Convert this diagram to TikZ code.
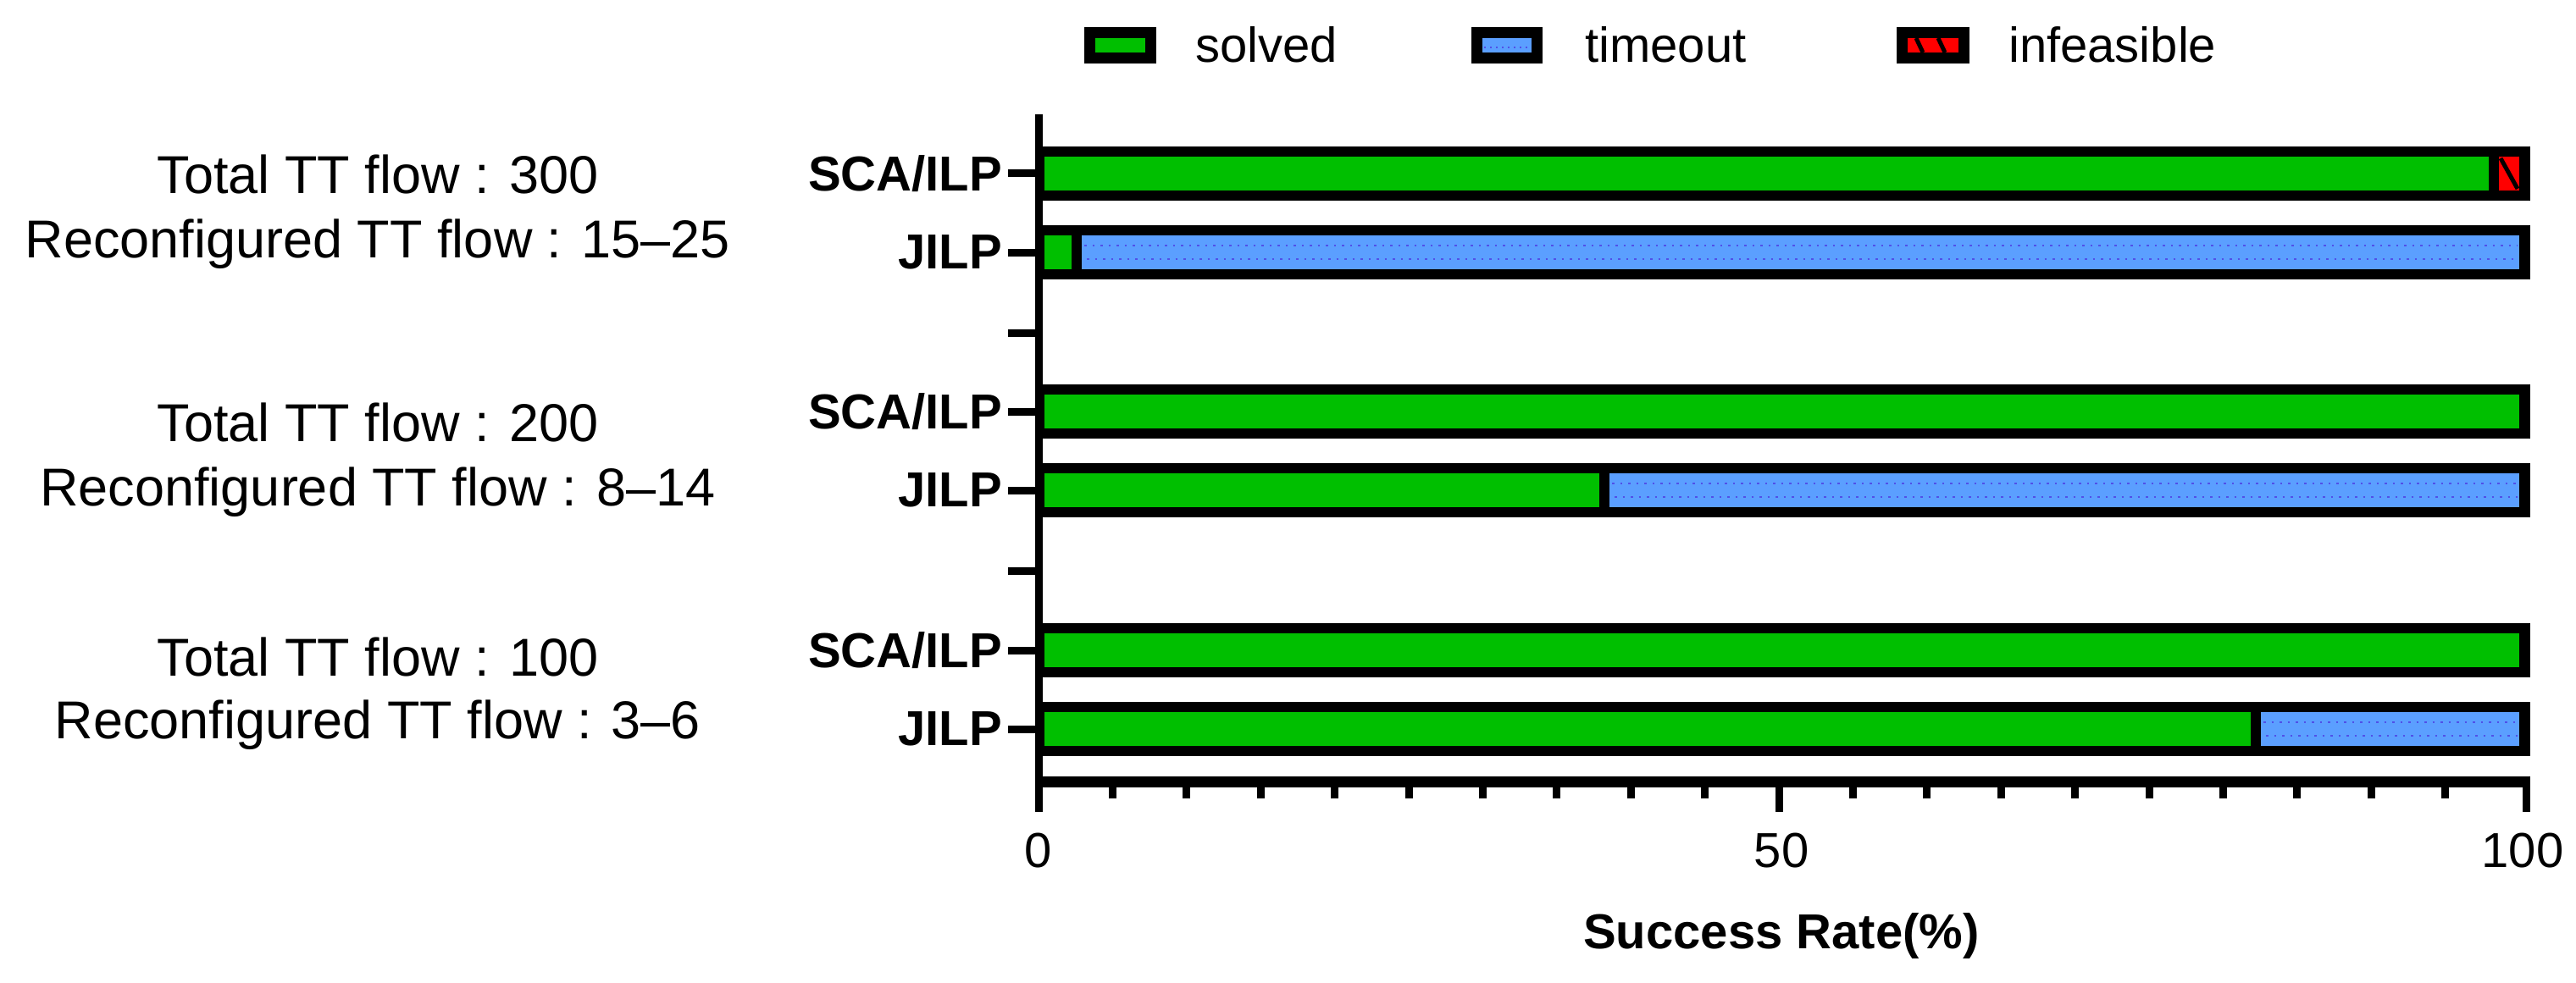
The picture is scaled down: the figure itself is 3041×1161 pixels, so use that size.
\documentclass[tikz,border=0pt]{standalone}
\usepackage{fontspec}
\setmainfont{Liberation Sans}
\begin{document}
\begin{tikzpicture}[x=1pt,y=-1pt,
  lbl/.style={font=\fontsize{58}{66}\selectfont, inner sep=0pt},
  glbl/.style={font=\fontsize{63}{70}\selectfont, inner sep=0pt, anchor=base},
  cat/.style={font=\fontsize{58}{66}\selectfont\bfseries, inner sep=0pt, anchor=east}]
\definecolor{sgreen}{HTML}{00BF00}
\definecolor{tblue}{HTML}{5B9FFF}
\definecolor{tdot}{HTML}{5050E8}
\useasboundingbox (0,0) rectangle (3041,1161);
% legend
\fill (1280,32) rectangle (1365,75); \fill[sgreen] (1293,45) rectangle (1352,62);
\node[lbl,anchor=west] (lsolved) at (1411,53) {solved};
\fill (1737,32) rectangle (1821,75); \fill[tblue] (1750,45) rectangle (1808,62);
\draw[tdot,line width=2pt,dash pattern=on 2pt off 5pt] (1752,56) -- (1806,56);
\node[lbl,anchor=west] (ltime) at (1871,53) {timeout};
\fill (2239,32) rectangle (2325,75); \fill[red] (2252,45) rectangle (2312,62);
\draw[black,line width=5pt] (2262,45) -- (2270,62) (2288,45) -- (2296,62);
\node[lbl,anchor=west] (linf) at (2371,53) {infeasible};
% axes
\draw[line width=9pt] (1226,135) -- (1226,930);
\draw[line width=13pt] (1222,923.5) -- (2987,923.5);
\foreach \i in {0,...,20}{\pgfmathsetmacro\xx{1226+\i*87.4}
  \ifnum\i=0 \draw[line width=9pt] (\xx,917) -- (\xx,959);
  \else\ifnum\i=10 \draw[line width=9pt] (\xx,917) -- (\xx,959);
  \else\ifnum\i=20 \draw[line width=9pt] (2982,917) -- (2982,959);
  \else \draw[line width=9pt] (\xx,917) -- (\xx,943); \fi\fi\fi}
\node[lbl] (t0) at (1226,1005) {0};
\node[lbl] (t50) at (2103,1005) {50};
\node[lbl] (t100) at (2978,1005) {100};
\node[font=\fontsize{58}{66}\selectfont\bfseries,inner sep=0pt] (xl) at (2103,1105) {Success Rate(\%)};
% y minor ticks
\draw[line width=9pt] (1190,393) -- (1226,393);
\draw[line width=9pt] (1190,674) -- (1226,674);
% bars
\foreach \nm/\top/\ge/\lab in {a/173/2938/SCA\slash ILP, b/266/1265/JILP, c/454/2974/SCA\slash ILP, d/547/1888/JILP, e/736/2974/SCA\slash ILP, f/829/2657/JILP}{
  \fill (1226,\top) rectangle (2987,\top+64);
  \fill[sgreen] (1233,\top+12) rectangle (\ge,\top+52);
  \draw[line width=9pt] (1190,\top+32) -- (1226,\top+32);
  \node[cat] (\nm) at (1183,\top+32) {\lab};
}
% timeout segments
\foreach \top/\s in {266/1277, 547/1900, 829/2669}{
  \fill[tblue] (\s,\top+12) rectangle (2974,\top+52);
  \draw[tdot,line width=2pt,dash pattern=on 2.5pt off 7pt] (\s+3,\top+24) -- (2972,\top+24);
  \draw[tdot,line width=2pt,dash pattern=on 2.5pt off 7pt] (\s+6,\top+40) -- (2972,\top+40);
}
% infeasible
\fill[red] (2950,185) rectangle (2974,225);
\draw[line width=5pt] (2952,187) -- (2972,223);
% left labels
\node[glbl] (g1a) at (446,229) {Total TT flow : 300};
\node[glbl] (g1b) at (446,304) {Reconfigured TT flow : 15–25};
\node[glbl] (g2a) at (446,521) {Total TT flow : 200};
\node[glbl] (g2b) at (446,597) {Reconfigured TT flow : 8–14};
\node[glbl] (g3a) at (446,798) {Total TT flow : 100};
\node[glbl] (g3b) at (446,872) {Reconfigured TT flow : 3–6};
\end{tikzpicture}
\end{document}
